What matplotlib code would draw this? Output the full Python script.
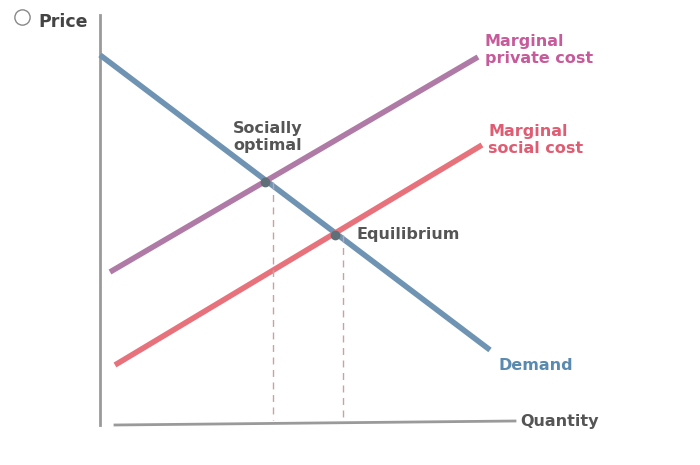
import matplotlib.pyplot as plt

# line endpoints (x, height from bottom)
demand_x = [100, 490]
demand_y = [410, 115]
mpc_x = [110, 478]
mpc_y = [193, 408]
msc_x = [115, 482]
msc_y = [100, 320]
social_opt = (265, 283)
equilibrium = (335, 230)

fig = plt.figure(figsize=(7, 4.65), dpi=100)
ax = fig.add_axes([0, 0, 1, 1])
ax.set_xlim(0, 700)
ax.set_ylim(0, 465)
ax.axis('off')

# axes of the diagram
ax.plot([100, 100], [450, 40], color='#9a9a9a', lw=2)
ax.plot([115, 515], [40, 44], color='#9a9a9a', lw=2)

ax.plot(demand_x, demand_y, color='#6f93b3', lw=4, solid_capstyle='butt')
ax.plot(mpc_x, mpc_y, color='#b07aa6', lw=4, solid_capstyle='butt')
ax.plot(msc_x, msc_y, color='#e8727c', lw=4, solid_capstyle='butt')

for px, py in [social_opt, equilibrium]:
    ax.plot([px + 8, px + 8], [py, 45], color='#c9a0a8', lw=1, ls=(0, (5, 4)))
    ax.plot(px, py, 'o', color='#5f6f78', ms=6)

ax.text(38, 443, 'Price', fontsize=12.5, fontweight='bold', color='#444444', va='center')
ax.plot(22, 448, 'o', mfc='white', mec='#888888', ms=11)
ax.text(485, 415, 'Marginal\nprivate cost', fontsize=11.5, fontweight='bold',
        color='#c75a9a', va='center', linespacing=1.1)
ax.text(488, 325, 'Marginal\nsocial cost', fontsize=11.5, fontweight='bold',
        color='#e05c72', va='center', linespacing=1.1)
ax.text(268, 328, 'Socially\noptimal', fontsize=11.5, fontweight='bold',
        color='#555555', ha='center', va='center', linespacing=1.1)
ax.text(357, 230, 'Equilibrium', fontsize=11.5, fontweight='bold', color='#555555', va='center')
ax.text(498, 100, 'Demand', fontsize=11.5, fontweight='bold', color='#5a8ab0', va='center')
ax.text(520, 44, 'Quantity', fontsize=11.5, fontweight='bold', color='#555555', va='center')

fig.savefig('out.png', dpi=100)
